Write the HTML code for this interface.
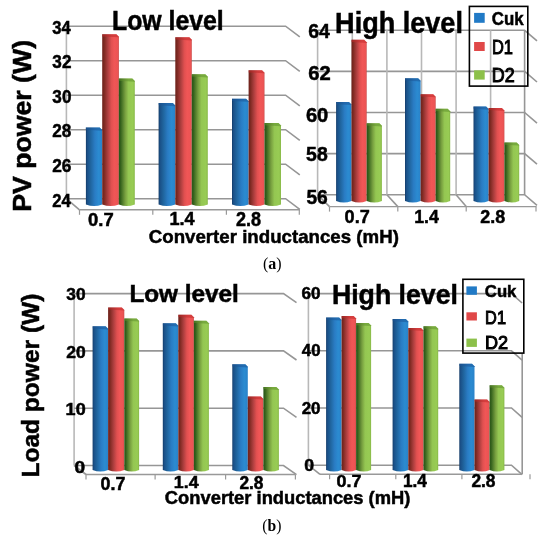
<!DOCTYPE html>
<html><head><meta charset="utf-8"><title>PV and load power vs converter inductance</title>
<style>html,body{margin:0;padding:0;background:#fff;}svg{display:block;}</style></head>
<body>
<svg width="550" height="540" viewBox="0 0 550 540">
<defs><linearGradient id="gb" x1="0" x2="1" y1="0" y2="0"><stop offset="0" stop-color="#123a66"/><stop offset="0.08" stop-color="#1a4f86"/><stop offset="0.3" stop-color="#2066a0"/><stop offset="0.55" stop-color="#2a7cc4"/><stop offset="0.78" stop-color="#2b8bd1"/><stop offset="1" stop-color="#2a82c9"/></linearGradient><linearGradient id="gr" x1="0" x2="1" y1="0" y2="0"><stop offset="0" stop-color="#6e221c"/><stop offset="0.1" stop-color="#7a2820"/><stop offset="0.35" stop-color="#b04040"/><stop offset="0.55" stop-color="#e05050"/><stop offset="0.72" stop-color="#f05656"/><stop offset="0.93" stop-color="#ec5454"/><stop offset="1" stop-color="#c84a48"/></linearGradient><linearGradient id="gg" x1="0" x2="1" y1="0" y2="0"><stop offset="0" stop-color="#2a5518"/><stop offset="0.1" stop-color="#33601c"/><stop offset="0.4" stop-color="#78a040"/><stop offset="0.6" stop-color="#94c652"/><stop offset="0.88" stop-color="#98cc54"/><stop offset="1" stop-color="#88b848"/></linearGradient></defs>
<rect width="550" height="540" fill="#fff"/>
<line x1="66.4" y1="26.2" x2="66.4" y2="198.7" stroke="#b8b8b8" stroke-width="1.6"/>
<polyline points="66.4,26.2 285.6,26.2 299.8,36.9" fill="none" stroke="#969696" stroke-width="1.6"/>
<polyline points="66.4,60.7 285.6,60.7 299.8,71.4" fill="none" stroke="#969696" stroke-width="1.6"/>
<polyline points="66.4,95.2 285.6,95.2 299.8,105.9" fill="none" stroke="#969696" stroke-width="1.6"/>
<polyline points="66.4,129.7 285.6,129.7 299.8,140.4" fill="none" stroke="#969696" stroke-width="1.6"/>
<polyline points="66.4,164.2 285.6,164.2 299.8,174.9" fill="none" stroke="#969696" stroke-width="1.6"/>
<polyline points="66.4,198.7 285.6,198.7 299.8,209.4" fill="none" stroke="#969696" stroke-width="1.6"/>
<line x1="66.4" y1="198.7" x2="79.5" y2="209.8" stroke="#969696" stroke-width="1.6"/>
<line x1="79.5" y1="209.8" x2="299.8" y2="209.8" stroke="#999999" stroke-width="1.4"/>
<line x1="79.5" y1="209.8" x2="79.5" y2="214.8" stroke="#999999" stroke-width="1.2"/>
<line x1="152.8" y1="209.8" x2="152.8" y2="214.8" stroke="#999999" stroke-width="1.2"/>
<line x1="226.4" y1="209.8" x2="226.4" y2="214.8" stroke="#999999" stroke-width="1.2"/>
<line x1="299.3" y1="209.8" x2="299.3" y2="214.8" stroke="#999999" stroke-width="1.2"/>
<line x1="317.6" y1="30.3" x2="317.6" y2="194.7" stroke="#b8b8b8" stroke-width="1.6"/>
<polyline points="317.6,30.3 524.6,30.3 537.0,40.9" fill="none" stroke="#969696" stroke-width="1.6"/>
<polyline points="317.6,71.4 524.6,71.4 537.0,82.0" fill="none" stroke="#969696" stroke-width="1.6"/>
<polyline points="317.6,112.5 524.6,112.5 537.0,123.1" fill="none" stroke="#969696" stroke-width="1.6"/>
<polyline points="317.6,153.6 524.6,153.6 537.0,164.2" fill="none" stroke="#969696" stroke-width="1.6"/>
<polyline points="317.6,194.7 524.6,194.7 537.0,205.3" fill="none" stroke="#969696" stroke-width="1.6"/>
<line x1="352.3" y1="30.3" x2="352.3" y2="194.7" stroke="#b8b8b8" stroke-width="1.6"/>
<line x1="386.9" y1="30.3" x2="386.9" y2="194.7" stroke="#b8b8b8" stroke-width="1.6"/>
<line x1="421.5" y1="30.3" x2="421.5" y2="194.7" stroke="#b8b8b8" stroke-width="1.6"/>
<line x1="456.1" y1="30.3" x2="456.1" y2="194.7" stroke="#b8b8b8" stroke-width="1.6"/>
<line x1="490.6" y1="30.3" x2="490.6" y2="194.7" stroke="#b8b8b8" stroke-width="1.6"/>
<line x1="386.9" y1="194.7" x2="397.8" y2="206.6" stroke="#969696" stroke-width="1.6"/>
<line x1="456.1" y1="194.7" x2="466.2" y2="206.6" stroke="#969696" stroke-width="1.6"/>
<line x1="524.6" y1="30.3" x2="524.6" y2="194.7" stroke="#969696" stroke-width="1.6"/>
<line x1="317.6" y1="194.7" x2="329.5" y2="206.6" stroke="#969696" stroke-width="1.6"/>
<line x1="329.5" y1="206.6" x2="536.5" y2="206.6" stroke="#999999" stroke-width="1.4"/>
<line x1="329.5" y1="206.6" x2="329.5" y2="211.6" stroke="#999999" stroke-width="1.2"/>
<line x1="397.8" y1="206.6" x2="397.8" y2="211.6" stroke="#999999" stroke-width="1.2"/>
<line x1="466.2" y1="206.6" x2="466.2" y2="211.6" stroke="#999999" stroke-width="1.2"/>
<line x1="536.0" y1="206.6" x2="536.0" y2="211.6" stroke="#999999" stroke-width="1.2"/>
<line x1="74.1" y1="293.6" x2="74.1" y2="465.5" stroke="#b8b8b8" stroke-width="1.6"/>
<polyline points="74.1,293.6 283.5,293.6 296.5,302.7" fill="none" stroke="#969696" stroke-width="1.6"/>
<polyline points="74.1,350.9 283.5,350.9 296.5,360.0" fill="none" stroke="#969696" stroke-width="1.6"/>
<polyline points="74.1,408.2 283.5,408.2 296.5,417.3" fill="none" stroke="#969696" stroke-width="1.6"/>
<polyline points="74.1,465.5 283.5,465.5 296.5,474.6" fill="none" stroke="#969696" stroke-width="1.6"/>
<line x1="74.1" y1="465.5" x2="86.0" y2="474.5" stroke="#969696" stroke-width="1.6"/>
<line x1="86.0" y1="474.5" x2="295.0" y2="474.5" stroke="#999999" stroke-width="1.4"/>
<line x1="86.0" y1="474.5" x2="86.0" y2="479.5" stroke="#999999" stroke-width="1.2"/>
<line x1="155.1" y1="474.5" x2="155.1" y2="479.5" stroke="#999999" stroke-width="1.2"/>
<line x1="225.6" y1="474.5" x2="225.6" y2="479.5" stroke="#999999" stroke-width="1.2"/>
<line x1="295.4" y1="474.5" x2="295.4" y2="479.5" stroke="#999999" stroke-width="1.2"/>
<line x1="308.4" y1="293.6" x2="308.4" y2="465.2" stroke="#b8b8b8" stroke-width="1.6"/>
<polyline points="308.4,293.6 511.5,293.6 522.1,303.0" fill="none" stroke="#969696" stroke-width="1.6"/>
<polyline points="308.4,350.8 511.5,350.8 522.1,360.2" fill="none" stroke="#969696" stroke-width="1.6"/>
<polyline points="308.4,408.0 511.5,408.0 522.1,417.4" fill="none" stroke="#969696" stroke-width="1.6"/>
<polyline points="308.4,465.2 511.5,465.2 522.1,474.6" fill="none" stroke="#969696" stroke-width="1.6"/>
<line x1="522.2" y1="353.5" x2="522.2" y2="474.3" stroke="#969696" stroke-width="1.6"/>
<line x1="308.4" y1="465.2" x2="320.0" y2="474.3" stroke="#969696" stroke-width="1.6"/>
<line x1="320.0" y1="474.3" x2="521.5" y2="474.3" stroke="#999999" stroke-width="1.4"/>
<line x1="329.6" y1="474.3" x2="329.6" y2="479.3" stroke="#999999" stroke-width="1.2"/>
<line x1="395.8" y1="474.3" x2="395.8" y2="479.3" stroke="#999999" stroke-width="1.2"/>
<line x1="461.9" y1="474.3" x2="461.9" y2="479.3" stroke="#999999" stroke-width="1.2"/>
<line x1="530.0" y1="474.3" x2="530.0" y2="479.3" stroke="#999999" stroke-width="1.2"/>
<path d="M85.9,127.6 L99.7,127.6 L102.2,130.1 L102.2,204.5 Q94.1,207.5 85.9,204.5 Z" fill="url(#gb)"/>
<path d="M85.9,127.6 L99.7,127.6 L102.2,130.1 L102.2,130.7 L85.9,129.8 Z" fill="#1b5697" opacity="0.55"/>
<path d="M102.2,34.2 L116.4,34.2 L118.9,36.7 L118.9,204.5 Q110.6,207.5 102.2,204.5 Z" fill="url(#gr)"/>
<path d="M102.2,34.2 L116.4,34.2 L118.9,36.7 L118.9,37.3 L102.2,36.4 Z" fill="#c02a2a" opacity="0.55"/>
<path d="M118.9,78.6 L132.3,78.6 L134.8,81.1 L134.8,204.5 Q126.9,207.5 118.9,204.5 Z" fill="url(#gg)"/>
<path d="M118.9,78.6 L132.3,78.6 L134.8,81.1 L134.8,81.7 L118.9,80.8 Z" fill="#5f8f2e" opacity="0.55"/>
<path d="M158.6,103.1 L172.8,103.1 L175.3,105.6 L175.3,204.5 Q166.9,207.5 158.6,204.5 Z" fill="url(#gb)"/>
<path d="M158.6,103.1 L172.8,103.1 L175.3,105.6 L175.3,106.2 L158.6,105.3 Z" fill="#1b5697" opacity="0.55"/>
<path d="M175.3,37.3 L189.3,37.3 L191.8,39.8 L191.8,204.5 Q183.6,207.5 175.3,204.5 Z" fill="url(#gr)"/>
<path d="M175.3,37.3 L189.3,37.3 L191.8,39.8 L191.8,40.4 L175.3,39.5 Z" fill="#c02a2a" opacity="0.55"/>
<path d="M191.8,74.3 L205.3,74.3 L207.8,76.8 L207.8,204.5 Q199.8,207.5 191.8,204.5 Z" fill="url(#gg)"/>
<path d="M191.8,74.3 L205.3,74.3 L207.8,76.8 L207.8,77.4 L191.8,76.5 Z" fill="#5f8f2e" opacity="0.55"/>
<path d="M232.0,98.7 L246.1,98.7 L248.6,101.2 L248.6,204.5 Q240.3,207.5 232.0,204.5 Z" fill="url(#gb)"/>
<path d="M232.0,98.7 L246.1,98.7 L248.6,101.2 L248.6,101.8 L232.0,100.9 Z" fill="#1b5697" opacity="0.55"/>
<path d="M248.6,70.2 L262.0,70.2 L264.5,72.7 L264.5,204.5 Q256.6,207.5 248.6,204.5 Z" fill="url(#gr)"/>
<path d="M248.6,70.2 L262.0,70.2 L264.5,72.7 L264.5,73.3 L248.6,72.4 Z" fill="#c02a2a" opacity="0.55"/>
<path d="M264.5,123.1 L278.5,123.1 L281.0,125.6 L281.0,204.5 Q272.8,207.5 264.5,204.5 Z" fill="url(#gg)"/>
<path d="M264.5,123.1 L278.5,123.1 L281.0,125.6 L281.0,126.2 L264.5,125.3 Z" fill="#5f8f2e" opacity="0.55"/>
<path d="M336.1,102.0 L349.0,102.0 L351.5,104.5 L351.5,201.0 Q343.8,204.0 336.1,201.0 Z" fill="url(#gb)"/>
<path d="M336.1,102.0 L349.0,102.0 L351.5,104.5 L351.5,105.1 L336.1,104.2 Z" fill="#1b5697" opacity="0.55"/>
<path d="M351.5,39.8 L364.2,39.8 L366.7,42.3 L366.7,201.0 Q359.1,204.0 351.5,201.0 Z" fill="url(#gr)"/>
<path d="M351.5,39.8 L364.2,39.8 L366.7,42.3 L366.7,42.9 L351.5,42.0 Z" fill="#c02a2a" opacity="0.55"/>
<path d="M366.7,123.3 L379.4,123.3 L381.9,125.8 L381.9,201.0 Q374.3,204.0 366.7,201.0 Z" fill="url(#gg)"/>
<path d="M366.7,123.3 L379.4,123.3 L381.9,125.8 L381.9,126.4 L366.7,125.5 Z" fill="#5f8f2e" opacity="0.55"/>
<path d="M405.0,78.3 L418.1,78.3 L420.6,80.8 L420.6,201.0 Q412.8,204.0 405.0,201.0 Z" fill="url(#gb)"/>
<path d="M405.0,78.3 L418.1,78.3 L420.6,80.8 L420.6,81.4 L405.0,80.5 Z" fill="#1b5697" opacity="0.55"/>
<path d="M420.6,94.2 L433.2,94.2 L435.7,96.7 L435.7,201.0 Q428.1,204.0 420.6,201.0 Z" fill="url(#gr)"/>
<path d="M420.6,94.2 L433.2,94.2 L435.7,96.7 L435.7,97.3 L420.6,96.4 Z" fill="#c02a2a" opacity="0.55"/>
<path d="M435.7,108.8 L447.7,108.8 L450.2,111.3 L450.2,201.0 Q442.9,204.0 435.7,201.0 Z" fill="url(#gg)"/>
<path d="M435.7,108.8 L447.7,108.8 L450.2,111.3 L450.2,111.9 L435.7,111.0 Z" fill="#5f8f2e" opacity="0.55"/>
<path d="M473.5,106.6 L486.1,106.6 L488.6,109.1 L488.6,201.0 Q481.1,204.0 473.5,201.0 Z" fill="url(#gb)"/>
<path d="M473.5,106.6 L486.1,106.6 L488.6,109.1 L488.6,109.7 L473.5,108.8 Z" fill="#1b5697" opacity="0.55"/>
<path d="M488.6,107.9 L501.9,107.9 L504.4,110.4 L504.4,201.0 Q496.5,204.0 488.6,201.0 Z" fill="url(#gr)"/>
<path d="M488.6,107.9 L501.9,107.9 L504.4,110.4 L504.4,111.0 L488.6,110.1 Z" fill="#c02a2a" opacity="0.55"/>
<path d="M504.4,142.5 L516.7,142.5 L519.2,145.0 L519.2,201.0 Q511.8,204.0 504.4,201.0 Z" fill="url(#gg)"/>
<path d="M504.4,142.5 L516.7,142.5 L519.2,145.0 L519.2,145.6 L504.4,144.7 Z" fill="#5f8f2e" opacity="0.55"/>
<path d="M92.6,326.3 L105.6,326.3 L108.1,328.8 L108.1,470.0 Q100.3,473.0 92.6,470.0 Z" fill="url(#gb)"/>
<path d="M92.6,326.3 L105.6,326.3 L108.1,328.8 L108.1,329.4 L92.6,328.5 Z" fill="#1b5697" opacity="0.55"/>
<path d="M108.1,307.4 L121.8,307.4 L124.3,309.9 L124.3,470.0 Q116.2,473.0 108.1,470.0 Z" fill="url(#gr)"/>
<path d="M108.1,307.4 L121.8,307.4 L124.3,309.9 L124.3,310.5 L108.1,309.6 Z" fill="#c02a2a" opacity="0.55"/>
<path d="M124.3,318.5 L136.6,318.5 L139.1,321.0 L139.1,470.0 Q131.7,473.0 124.3,470.0 Z" fill="url(#gg)"/>
<path d="M124.3,318.5 L136.6,318.5 L139.1,321.0 L139.1,321.6 L124.3,320.7 Z" fill="#5f8f2e" opacity="0.55"/>
<path d="M162.8,323.3 L175.8,323.3 L178.3,325.8 L178.3,470.0 Q170.6,473.0 162.8,470.0 Z" fill="url(#gb)"/>
<path d="M162.8,323.3 L175.8,323.3 L178.3,325.8 L178.3,326.4 L162.8,325.5 Z" fill="#1b5697" opacity="0.55"/>
<path d="M178.3,314.8 L191.4,314.8 L193.9,317.3 L193.9,470.0 Q186.1,473.0 178.3,470.0 Z" fill="url(#gr)"/>
<path d="M178.3,314.8 L191.4,314.8 L193.9,317.3 L193.9,317.9 L178.3,317.0 Z" fill="#c02a2a" opacity="0.55"/>
<path d="M193.9,320.7 L206.4,320.7 L208.9,323.2 L208.9,470.0 Q201.4,473.0 193.9,470.0 Z" fill="url(#gg)"/>
<path d="M193.9,320.7 L206.4,320.7 L208.9,323.2 L208.9,323.8 L193.9,322.9 Z" fill="#5f8f2e" opacity="0.55"/>
<path d="M232.3,364.3 L245.3,364.3 L247.8,366.8 L247.8,470.0 Q240.1,473.0 232.3,470.0 Z" fill="url(#gb)"/>
<path d="M232.3,364.3 L245.3,364.3 L247.8,366.8 L247.8,367.4 L232.3,366.5 Z" fill="#1b5697" opacity="0.55"/>
<path d="M247.8,396.4 L260.9,396.4 L263.4,398.9 L263.4,470.0 Q255.6,473.0 247.8,470.0 Z" fill="url(#gr)"/>
<path d="M247.8,396.4 L260.9,396.4 L263.4,398.9 L263.4,399.5 L247.8,398.6 Z" fill="#c02a2a" opacity="0.55"/>
<path d="M263.4,386.9 L276.4,386.9 L278.9,389.4 L278.9,470.0 Q271.1,473.0 263.4,470.0 Z" fill="url(#gg)"/>
<path d="M263.4,386.9 L276.4,386.9 L278.9,389.4 L278.9,390.0 L263.4,389.1 Z" fill="#5f8f2e" opacity="0.55"/>
<path d="M326.1,317.5 L339.1,317.5 L341.6,320.0 L341.6,470.0 Q333.9,473.0 326.1,470.0 Z" fill="url(#gb)"/>
<path d="M326.1,317.5 L339.1,317.5 L341.6,320.0 L341.6,320.6 L326.1,319.7 Z" fill="#1b5697" opacity="0.55"/>
<path d="M341.6,315.9 L353.6,315.9 L356.1,318.4 L356.1,470.0 Q348.9,473.0 341.6,470.0 Z" fill="url(#gr)"/>
<path d="M341.6,315.9 L353.6,315.9 L356.1,318.4 L356.1,319.0 L341.6,318.1 Z" fill="#c02a2a" opacity="0.55"/>
<path d="M356.1,323.0 L368.6,323.0 L371.1,325.5 L371.1,470.0 Q363.6,473.0 356.1,470.0 Z" fill="url(#gg)"/>
<path d="M356.1,323.0 L368.6,323.0 L371.1,325.5 L371.1,326.1 L356.1,325.2 Z" fill="#5f8f2e" opacity="0.55"/>
<path d="M392.6,319.1 L405.8,319.1 L408.3,321.6 L408.3,470.0 Q400.5,473.0 392.6,470.0 Z" fill="url(#gb)"/>
<path d="M392.6,319.1 L405.8,319.1 L408.3,321.6 L408.3,322.2 L392.6,321.3 Z" fill="#1b5697" opacity="0.55"/>
<path d="M408.3,327.9 L421.0,327.9 L423.5,330.4 L423.5,470.0 Q415.9,473.0 408.3,470.0 Z" fill="url(#gr)"/>
<path d="M408.3,327.9 L421.0,327.9 L423.5,330.4 L423.5,331.0 L408.3,330.1 Z" fill="#c02a2a" opacity="0.55"/>
<path d="M423.5,326.3 L435.7,326.3 L438.2,328.8 L438.2,470.0 Q430.9,473.0 423.5,470.0 Z" fill="url(#gg)"/>
<path d="M423.5,326.3 L435.7,326.3 L438.2,328.8 L438.2,329.4 L423.5,328.5 Z" fill="#5f8f2e" opacity="0.55"/>
<path d="M459.3,363.8 L472.0,363.8 L474.5,366.3 L474.5,470.0 Q466.9,473.0 459.3,470.0 Z" fill="url(#gb)"/>
<path d="M459.3,363.8 L472.0,363.8 L474.5,366.3 L474.5,366.9 L459.3,366.0 Z" fill="#1b5697" opacity="0.55"/>
<path d="M474.5,399.4 L487.1,399.4 L489.6,401.9 L489.6,470.0 Q482.1,473.0 474.5,470.0 Z" fill="url(#gr)"/>
<path d="M474.5,399.4 L487.1,399.4 L489.6,401.9 L489.6,402.5 L474.5,401.6 Z" fill="#c02a2a" opacity="0.55"/>
<path d="M489.6,385.2 L501.9,385.2 L504.4,387.7 L504.4,470.0 Q497.0,473.0 489.6,470.0 Z" fill="url(#gg)"/>
<path d="M489.6,385.2 L501.9,385.2 L504.4,387.7 L504.4,388.3 L489.6,387.4 Z" fill="#5f8f2e" opacity="0.55"/>
<rect x="469.4" y="6.4" width="58.4" height="79.7" fill="none" stroke="#000" stroke-width="1.6"/>
<rect x="474.1" y="12.9" width="10.6" height="9.9" fill="#217ac6"/>
<rect x="474.1" y="42.0" width="10.6" height="9.0" fill="#e04848"/>
<rect x="474.1" y="70.3" width="10.6" height="9.3" fill="#8cc04a"/>
<rect x="462.9" y="279.3" width="60.9" height="73.8" fill="none" stroke="#000" stroke-width="1.6"/>
<rect x="466.4" y="286.4" width="10.5" height="8.4" fill="#217ac6"/>
<rect x="466.4" y="312.3" width="10.5" height="8.2" fill="#e04848"/>
<rect x="466.4" y="338.6" width="10.5" height="8.3" fill="#8cc04a"/>
<text transform="translate(112.06,29.80) scale(0.9256,1)" font-family="'Liberation Sans', Arial, sans-serif" font-weight="bold" font-size="26.81" fill="#000" stroke="#000" stroke-width="0.5">Low level</text>
<text transform="translate(335.10,32.50) scale(0.9025,1)" font-family="'Liberation Sans', Arial, sans-serif" font-weight="bold" font-size="30.00" fill="#000" stroke="#000" stroke-width="0.5">High level</text>
<text transform="translate(129.40,301.70) scale(0.9985,1)" font-family="'Liberation Sans', Arial, sans-serif" font-weight="bold" font-size="24.35" fill="#000" stroke="#000" stroke-width="0.5">Low level</text>
<text transform="translate(331.93,303.80) scale(0.9539,1)" font-family="'Liberation Sans', Arial, sans-serif" font-weight="bold" font-size="27.97" fill="#000" stroke="#000" stroke-width="0.5">High level</text>
<text transform="translate(30.60,211.87) rotate(-90) scale(1.0461,1)" font-family="'Liberation Sans', Arial, sans-serif" font-weight="bold" font-size="25.51" fill="#000" stroke="#000" stroke-width="0.5">PV power (W)</text>
<text transform="translate(38.80,477.52) rotate(-90) scale(1.0133,1)" font-family="'Liberation Sans', Arial, sans-serif" font-weight="bold" font-size="24.20" fill="#000" stroke="#000" stroke-width="0.5">Load power (W)</text>
<text transform="translate(148.75,243.30) scale(0.9841,1)" font-family="'Liberation Sans', Arial, sans-serif" font-weight="bold" font-size="18.99" fill="#000" stroke="#000" stroke-width="0.5">Converter inductances (mH)</text>
<text transform="translate(164.87,503.80) scale(0.9737,1)" font-family="'Liberation Sans', Arial, sans-serif" font-weight="bold" font-size="18.84" fill="#000" stroke="#000" stroke-width="0.5">Converter inductances (mH)</text>
<text transform="translate(262.96,268.89) scale(0.9874,1)" font-family="'Liberation Serif', 'Times New Roman', serif" font-weight="normal" font-size="16.22" fill="#000">(<tspan font-weight="bold">a</tspan>)</text>
<text transform="translate(262.37,531.33) scale(0.9236,1)" font-family="'Liberation Serif', 'Times New Roman', serif" font-weight="normal" font-size="17.00" fill="#000">(<tspan font-weight="bold">b</tspan>)</text>
<text transform="translate(52.37,33.82) scale(0.9019,1)" font-family="'Liberation Sans', Arial, sans-serif" font-weight="bold" font-size="18.31" fill="#000" stroke="#000" stroke-width="0.5">34</text>
<text transform="translate(52.36,68.32) scale(0.9363,1)" font-family="'Liberation Sans', Arial, sans-serif" font-weight="bold" font-size="18.31" fill="#000" stroke="#000" stroke-width="0.5">32</text>
<text transform="translate(52.36,102.82) scale(0.9363,1)" font-family="'Liberation Sans', Arial, sans-serif" font-weight="bold" font-size="18.31" fill="#000" stroke="#000" stroke-width="0.5">30</text>
<text transform="translate(52.19,137.32) scale(0.9363,1)" font-family="'Liberation Sans', Arial, sans-serif" font-weight="bold" font-size="18.31" fill="#000" stroke="#000" stroke-width="0.5">28</text>
<text transform="translate(52.18,171.82) scale(0.9453,1)" font-family="'Liberation Sans', Arial, sans-serif" font-weight="bold" font-size="18.31" fill="#000" stroke="#000" stroke-width="0.5">26</text>
<text transform="translate(52.20,206.50) scale(0.8974,1)" font-family="'Liberation Sans', Arial, sans-serif" font-weight="bold" font-size="18.57" fill="#000" stroke="#000" stroke-width="0.5">24</text>
<text transform="translate(308.32,38.19) scale(0.9326,1)" font-family="'Liberation Sans', Arial, sans-serif" font-weight="bold" font-size="20.85" fill="#000" stroke="#000" stroke-width="0.5">64</text>
<text transform="translate(308.19,79.70) scale(1.0026,1)" font-family="'Liberation Sans', Arial, sans-serif" font-weight="bold" font-size="20.14" fill="#000" stroke="#000" stroke-width="0.5">62</text>
<text transform="translate(305.89,121.69) scale(0.9688,1)" font-family="'Liberation Sans', Arial, sans-serif" font-weight="bold" font-size="20.85" fill="#000" stroke="#000" stroke-width="0.5">60</text>
<text transform="translate(306.12,160.80) scale(0.9714,1)" font-family="'Liberation Sans', Arial, sans-serif" font-weight="bold" font-size="20.00" fill="#000" stroke="#000" stroke-width="0.5">58</text>
<text transform="translate(306.42,203.89) scale(0.9288,1)" font-family="'Liberation Sans', Arial, sans-serif" font-weight="bold" font-size="20.70" fill="#000" stroke="#000" stroke-width="0.5">56</text>
<text transform="translate(66.35,300.23) scale(1.0171,1)" font-family="'Liberation Sans', Arial, sans-serif" font-weight="bold" font-size="17.04" fill="#000" stroke="#000" stroke-width="0.5">30</text>
<text transform="translate(66.17,357.53) scale(1.0269,1)" font-family="'Liberation Sans', Arial, sans-serif" font-weight="bold" font-size="17.04" fill="#000" stroke="#000" stroke-width="0.5">20</text>
<text transform="translate(65.62,414.83) scale(1.0574,1)" font-family="'Liberation Sans', Arial, sans-serif" font-weight="bold" font-size="17.04" fill="#000" stroke="#000" stroke-width="0.5">10</text>
<text transform="translate(74.43,472.73) scale(1.1053,1)" font-family="'Liberation Sans', Arial, sans-serif" font-weight="bold" font-size="17.32" fill="#000" stroke="#000" stroke-width="0.5">0</text>
<text transform="translate(301.52,299.14) scale(1.0369,1)" font-family="'Liberation Sans', Arial, sans-serif" font-weight="bold" font-size="16.48" fill="#000" stroke="#000" stroke-width="0.5">60</text>
<text transform="translate(301.86,356.34) scale(1.0172,1)" font-family="'Liberation Sans', Arial, sans-serif" font-weight="bold" font-size="16.48" fill="#000" stroke="#000" stroke-width="0.5">40</text>
<text transform="translate(301.69,413.54) scale(1.0270,1)" font-family="'Liberation Sans', Arial, sans-serif" font-weight="bold" font-size="16.48" fill="#000" stroke="#000" stroke-width="0.5">20</text>
<text transform="translate(304.29,471.04) scale(1.0809,1)" font-family="'Liberation Sans', Arial, sans-serif" font-weight="bold" font-size="16.34" fill="#000" stroke="#000" stroke-width="0.5">0</text>
<text transform="translate(88.06,225.91) scale(0.9644,1)" font-family="'Liberation Sans', Arial, sans-serif" font-weight="bold" font-size="19.15" fill="#000" stroke="#000" stroke-width="0.5">0.7</text>
<text transform="translate(169.51,224.50) scale(0.9472,1)" font-family="'Liberation Sans', Arial, sans-serif" font-weight="bold" font-size="19.13" fill="#000" stroke="#000" stroke-width="0.5">1.4</text>
<text transform="translate(236.06,225.60) scale(0.9217,1)" font-family="'Liberation Sans', Arial, sans-serif" font-weight="bold" font-size="19.58" fill="#000" stroke="#000" stroke-width="0.5">2.8</text>
<text transform="translate(344.58,223.31) scale(0.9445,1)" font-family="'Liberation Sans', Arial, sans-serif" font-weight="bold" font-size="19.15" fill="#000" stroke="#000" stroke-width="0.5">0.7</text>
<text transform="translate(414.24,222.90) scale(0.9206,1)" font-family="'Liberation Sans', Arial, sans-serif" font-weight="bold" font-size="19.28" fill="#000" stroke="#000" stroke-width="0.5">1.4</text>
<text transform="translate(480.36,222.71) scale(0.9342,1)" font-family="'Liberation Sans', Arial, sans-serif" font-weight="bold" font-size="19.15" fill="#000" stroke="#000" stroke-width="0.5">2.8</text>
<text transform="translate(100.59,489.72) scale(1.0103,1)" font-family="'Liberation Sans', Arial, sans-serif" font-weight="bold" font-size="17.61" fill="#000" stroke="#000" stroke-width="0.5">0.7</text>
<text transform="translate(173.83,488.20) scale(1.0246,1)" font-family="'Liberation Sans', Arial, sans-serif" font-weight="bold" font-size="17.39" fill="#000" stroke="#000" stroke-width="0.5">1.4</text>
<text transform="translate(239.38,489.03) scale(0.9945,1)" font-family="'Liberation Sans', Arial, sans-serif" font-weight="bold" font-size="17.46" fill="#000" stroke="#000" stroke-width="0.5">2.8</text>
<text transform="translate(336.58,486.73) scale(1.0526,1)" font-family="'Liberation Sans', Arial, sans-serif" font-weight="bold" font-size="17.04" fill="#000" stroke="#000" stroke-width="0.5">0.7</text>
<text transform="translate(402.97,486.90) scale(0.9819,1)" font-family="'Liberation Sans', Arial, sans-serif" font-weight="bold" font-size="17.54" fill="#000" stroke="#000" stroke-width="0.5">1.4</text>
<text transform="translate(471.38,486.73) scale(0.9945,1)" font-family="'Liberation Sans', Arial, sans-serif" font-weight="bold" font-size="17.46" fill="#000" stroke="#000" stroke-width="0.5">2.8</text>
<text transform="translate(491.73,25.22) scale(0.9176,1)" font-family="'Liberation Sans', Arial, sans-serif" font-weight="bold" font-size="18.38" fill="#000" stroke="#000" stroke-width="0.5">Cuk</text>
<text transform="translate(491.89,53.90) scale(0.8043,1)" font-family="'Liberation Sans', Arial, sans-serif" font-weight="normal" font-size="20.43" fill="#000" stroke="#000" stroke-width="1.0">D1</text>
<text transform="translate(491.77,82.20) scale(0.9021,1)" font-family="'Liberation Sans', Arial, sans-serif" font-weight="normal" font-size="19.86" fill="#000" stroke="#000" stroke-width="1.0">D2</text>
<text transform="translate(484.83,296.64) scale(1.0131,1)" font-family="'Liberation Sans', Arial, sans-serif" font-weight="bold" font-size="16.49" fill="#000" stroke="#000" stroke-width="0.5">Cuk</text>
<text transform="translate(485.09,323.80) scale(0.8744,1)" font-family="'Liberation Sans', Arial, sans-serif" font-weight="normal" font-size="18.70" fill="#000" stroke="#000" stroke-width="1.0">D1</text>
<text transform="translate(484.95,349.40) scale(1.0048,1)" font-family="'Liberation Sans', Arial, sans-serif" font-weight="normal" font-size="18.00" fill="#000" stroke="#000" stroke-width="1.0">D2</text>
</svg>
</body></html>
